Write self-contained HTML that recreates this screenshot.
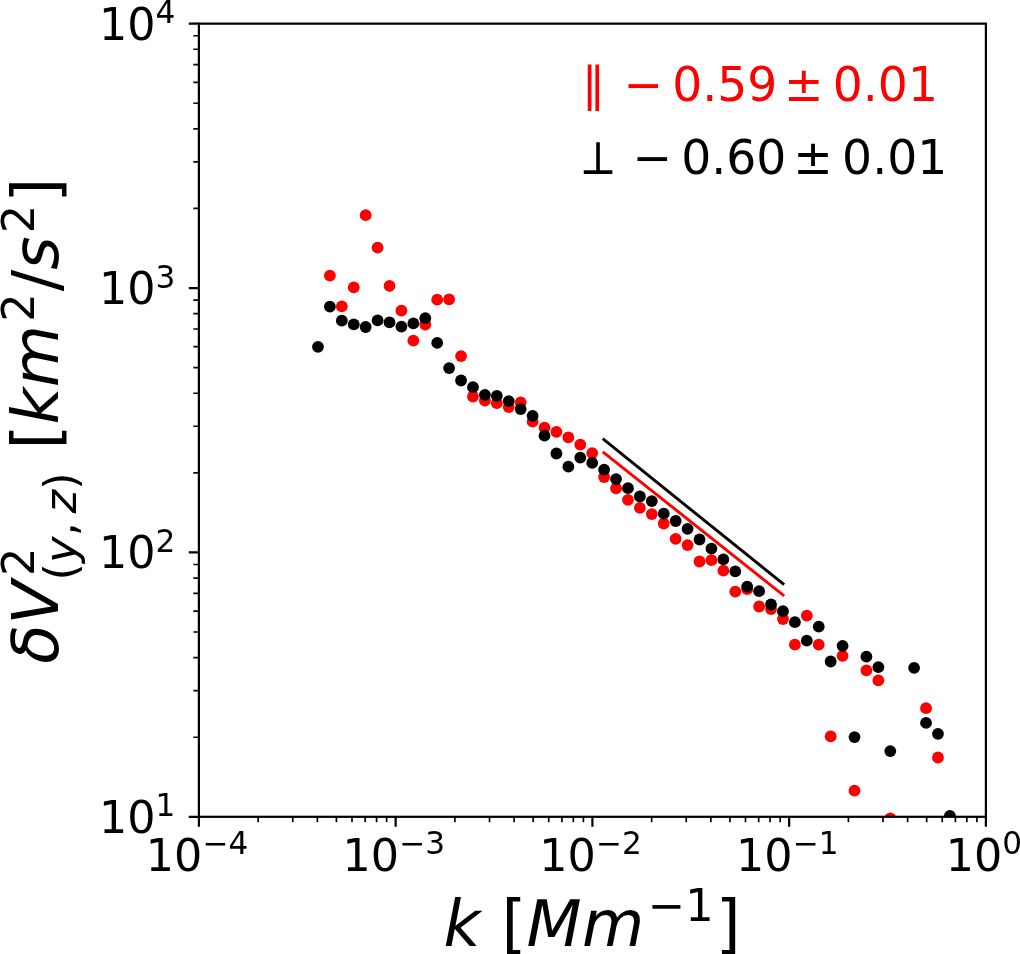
<!DOCTYPE html>
<html lang="en"><head><meta charset="utf-8"><title>Power spectrum</title>
<style>html,body{margin:0;padding:0;background:#fff}svg{display:block}text{font-family:"DejaVu Sans","Liberation Sans",sans-serif;fill:#000}.it{font-style:oblique}.r text{fill:#f00}</style></head><body>
<svg width="1020" height="954" viewBox="0 0 1020 954">
<rect width="1020" height="954" fill="#fff"/>
<defs><clipPath id="ax"><rect x="198.9" y="23.65" width="787.0" height="793.15"/></clipPath></defs>
<g clip-path="url(#ax)">
<g fill="#f00"><circle cx="329.89" cy="275.6" r="5.9"/><circle cx="341.82" cy="306.3" r="5.9"/><circle cx="353.74" cy="287.4" r="5.9"/><circle cx="365.66" cy="215.2" r="5.9"/><circle cx="377.59" cy="247.7" r="5.9"/><circle cx="389.51" cy="285.9" r="5.9"/><circle cx="401.43" cy="310.6" r="5.9"/><circle cx="413.35" cy="340.6" r="5.9"/><circle cx="425.28" cy="324.5" r="5.9"/><circle cx="437.20" cy="299.7" r="5.9"/><circle cx="449.12" cy="299.3" r="5.9"/><circle cx="461.05" cy="356.1" r="5.9"/><circle cx="472.97" cy="396.5" r="5.9"/><circle cx="484.89" cy="400.5" r="5.9"/><circle cx="496.82" cy="403.2" r="5.9"/><circle cx="508.74" cy="407.0" r="5.9"/><circle cx="520.66" cy="402.3" r="5.9"/><circle cx="532.58" cy="421.6" r="5.9"/><circle cx="544.51" cy="427.7" r="5.9"/><circle cx="556.43" cy="431.9" r="5.9"/><circle cx="568.35" cy="437.4" r="5.9"/><circle cx="580.28" cy="444.7" r="5.9"/><circle cx="592.20" cy="453.1" r="5.9"/><circle cx="604.12" cy="477.0" r="5.9"/><circle cx="616.05" cy="488.3" r="5.9"/><circle cx="627.97" cy="499.8" r="5.9"/><circle cx="639.89" cy="507.9" r="5.9"/><circle cx="651.81" cy="514.1" r="5.9"/><circle cx="663.74" cy="523.5" r="5.9"/><circle cx="675.66" cy="538.8" r="5.9"/><circle cx="687.58" cy="545.1" r="5.9"/><circle cx="699.51" cy="561.5" r="5.9"/><circle cx="711.43" cy="560.2" r="5.9"/><circle cx="723.35" cy="570.7" r="5.9"/><circle cx="735.28" cy="591.7" r="5.9"/><circle cx="747.20" cy="589.2" r="5.9"/><circle cx="759.12" cy="606.5" r="5.9"/><circle cx="771.04" cy="609.1" r="5.9"/><circle cx="782.97" cy="619.0" r="5.9"/><circle cx="794.89" cy="644.7" r="5.9"/><circle cx="806.81" cy="615.6" r="5.9"/><circle cx="818.74" cy="644.7" r="5.9"/><circle cx="830.66" cy="736.3" r="5.9"/><circle cx="842.58" cy="655.8" r="5.9"/><circle cx="854.50" cy="790.7" r="5.9"/><circle cx="866.43" cy="670.3" r="5.9"/><circle cx="878.35" cy="680.4" r="5.9"/><circle cx="890.27" cy="818.3" r="5.9"/><circle cx="926.04" cy="708.2" r="5.9"/><circle cx="937.97" cy="757.5" r="5.9"/></g>
<g fill="#000"><circle cx="317.97" cy="346.8" r="5.9"/><circle cx="329.89" cy="306.6" r="5.9"/><circle cx="341.82" cy="320.7" r="5.9"/><circle cx="353.74" cy="324.3" r="5.9"/><circle cx="365.66" cy="327.0" r="5.9"/><circle cx="377.59" cy="320.3" r="5.9"/><circle cx="389.51" cy="322.4" r="5.9"/><circle cx="401.43" cy="326.6" r="5.9"/><circle cx="413.35" cy="323.4" r="5.9"/><circle cx="425.28" cy="318.2" r="5.9"/><circle cx="437.20" cy="342.9" r="5.9"/><circle cx="449.12" cy="368.1" r="5.9"/><circle cx="461.05" cy="380.5" r="5.9"/><circle cx="472.97" cy="387.2" r="5.9"/><circle cx="484.89" cy="394.8" r="5.9"/><circle cx="496.82" cy="395.9" r="5.9"/><circle cx="508.74" cy="401.1" r="5.9"/><circle cx="520.66" cy="409.1" r="5.9"/><circle cx="532.58" cy="415.8" r="5.9"/><circle cx="544.51" cy="435.7" r="5.9"/><circle cx="556.43" cy="453.5" r="5.9"/><circle cx="568.35" cy="466.7" r="5.9"/><circle cx="580.28" cy="457.7" r="5.9"/><circle cx="592.20" cy="462.9" r="5.9"/><circle cx="604.12" cy="469.7" r="5.9"/><circle cx="616.05" cy="479.1" r="5.9"/><circle cx="627.97" cy="488.2" r="5.9"/><circle cx="639.89" cy="496.5" r="5.9"/><circle cx="651.81" cy="501.1" r="5.9"/><circle cx="663.74" cy="513.7" r="5.9"/><circle cx="675.66" cy="521.0" r="5.9"/><circle cx="687.58" cy="528.8" r="5.9"/><circle cx="699.51" cy="539.5" r="5.9"/><circle cx="711.43" cy="548.7" r="5.9"/><circle cx="723.35" cy="559.4" r="5.9"/><circle cx="735.28" cy="571.3" r="5.9"/><circle cx="747.20" cy="586.6" r="5.9"/><circle cx="759.12" cy="591.2" r="5.9"/><circle cx="771.04" cy="604.5" r="5.9"/><circle cx="782.97" cy="611.2" r="5.9"/><circle cx="794.89" cy="622.2" r="5.9"/><circle cx="806.81" cy="640.7" r="5.9"/><circle cx="818.74" cy="626.6" r="5.9"/><circle cx="830.66" cy="661.5" r="5.9"/><circle cx="842.58" cy="645.8" r="5.9"/><circle cx="854.50" cy="737.1" r="5.9"/><circle cx="866.43" cy="656.7" r="5.9"/><circle cx="878.35" cy="667.2" r="5.9"/><circle cx="890.27" cy="751.1" r="5.9"/><circle cx="914.12" cy="667.8" r="5.9"/><circle cx="926.04" cy="722.9" r="5.9"/><circle cx="937.97" cy="733.8" r="5.9"/><circle cx="949.89" cy="815.8" r="5.9"/></g>
<line x1="602.8" y1="451.8" x2="784.2" y2="595.9" stroke="#f00" stroke-width="2.9"/>
<line x1="602.7" y1="438.7" x2="784.2" y2="584.7" stroke="#000" stroke-width="2.9"/>
</g>
<path d="M198.90 816.8v10.0M395.65 816.8v10.0M592.40 816.8v10.0M789.15 816.8v10.0M985.90 816.8v10.0M198.9 816.80h-10.1M198.9 552.42h-10.1M198.9 288.03h-10.1M198.9 23.65h-10.1" stroke="#000" stroke-width="2.22" fill="none"/>
<path d="M258.13 816.8v5.56M292.77 816.8v5.56M317.36 816.8v5.56M336.42 816.8v5.56M352.00 816.8v5.56M365.17 816.8v5.56M376.58 816.8v5.56M386.65 816.8v5.56M454.88 816.8v5.56M489.52 816.8v5.56M514.11 816.8v5.56M533.17 816.8v5.56M548.75 816.8v5.56M561.92 816.8v5.56M573.33 816.8v5.56M583.40 816.8v5.56M651.63 816.8v5.56M686.27 816.8v5.56M710.86 816.8v5.56M729.92 816.8v5.56M745.50 816.8v5.56M758.67 816.8v5.56M770.08 816.8v5.56M780.15 816.8v5.56M848.38 816.8v5.56M883.02 816.8v5.56M907.61 816.8v5.56M926.67 816.8v5.56M942.25 816.8v5.56M955.42 816.8v5.56M966.83 816.8v5.56M976.90 816.8v5.56M198.9 737.21h-5.56M198.9 690.66h-5.56M198.9 657.63h-5.56M198.9 632.00h-5.56M198.9 611.07h-5.56M198.9 593.37h-5.56M198.9 578.04h-5.56M198.9 564.51h-5.56M198.9 472.83h-5.56M198.9 426.27h-5.56M198.9 393.24h-5.56M198.9 367.62h-5.56M198.9 346.69h-5.56M198.9 328.99h-5.56M198.9 313.65h-5.56M198.9 300.13h-5.56M198.9 208.45h-5.56M198.9 161.89h-5.56M198.9 128.86h-5.56M198.9 103.24h-5.56M198.9 82.30h-5.56M198.9 64.60h-5.56M198.9 49.27h-5.56M198.9 35.75h-5.56" stroke="#000" stroke-width="1.67" fill="none"/>
<rect x="198.9" y="23.65" width="787.0" height="793.15" fill="none" stroke="#000" stroke-width="2.22"/>
<g font-size="44.44">
<text x="145.80" y="870.6">10<tspan font-size="31.11" dy="-16.8">−4</tspan></text>
<text x="342.55" y="870.6">10<tspan font-size="31.11" dy="-16.8">−3</tspan></text>
<text x="539.30" y="870.6">10<tspan font-size="31.11" dy="-16.8">−2</tspan></text>
<text x="736.05" y="870.6">10<tspan font-size="31.11" dy="-16.8">−1</tspan></text>
<text x="945.80" y="870.6">10<tspan font-size="31.11" dy="-16.2">0</tspan></text>
<text x="99.0" y="832.80">10<tspan font-size="31.11" dy="-16.5">1</tspan></text>
<text x="99.0" y="568.42">10<tspan font-size="31.11" dy="-16.5">2</tspan></text>
<text x="99.0" y="304.03">10<tspan font-size="31.11" dy="-16.5">3</tspan></text>
<text x="99.0" y="39.65">10<tspan font-size="31.11" dy="-16.5">4</tspan></text>
</g>
<g font-size="63.9">
<text class="it" x="443.40" y="945.6">k</text>
<text x="501.48" y="945.6">[</text>
<text class="it" x="526.55" y="945.6">M</text>
<text class="it" x="581.99" y="945.6">m</text>
<text font-size="44.72" x="647.58" y="921.1">−</text>
<text font-size="44.72" x="685.26" y="921.1">1</text>
<text x="715.64" y="945.6">]</text>
</g>
<g transform="translate(58.4 663.8) rotate(-90)" font-size="63.9">
<text class="it" x="0.00" y="0.00">δ</text>
<text class="it" x="39.31" y="0.00">V</text>
<text font-size="44.72" x="87.79" y="-24.50">2</text>
<text font-size="44.72" x="83.28" y="17.50">(</text>
<text class="it" font-size="44.72" x="100.82" y="17.50">y</text>
<text font-size="44.72" x="127.44" y="17.50">,</text>
<text class="it" font-size="44.72" x="150.50" y="17.50">z</text>
<text font-size="44.72" x="174.11" y="17.50">)</text>
<text x="214.29" y="0.00">[</text>
<text class="it" x="239.36" y="0.00">k</text>
<text class="it" x="276.57" y="0.00">m</text>
<text font-size="44.72" x="342.16" y="-24.50">2</text>
<text x="372.53" y="0.00">/</text>
<text class="it" x="394.18" y="0.00">s</text>
<text font-size="44.72" x="430.66" y="-24.50">2</text>
<text x="461.04" y="0.00">]</text>
</g>
<g font-size="47.22" class="r">
<text x="581.41" y="101.4">∥</text>
<text x="623.44" y="101.4">−</text>
<text x="672.24" y="101.4">0.59</text>
<text x="784.02" y="101.4">±</text>
<text x="832.82" y="101.4">0.01</text>
</g>
<g font-size="47.22">
<text x="583.8" y="174.0" style="font-family:'DejaVu Math TeX Gyre','DejaVu Sans',sans-serif;font-size:45.5px" transform="translate(-3.64 0)">⊥</text>
<text x="632.46" y="174.0">−</text>
<text x="681.26" y="174.0">0.60</text>
<text x="793.30" y="174.0">±</text>
<text x="842.10" y="174.0">0.01</text>
</g>
</svg></body></html>
